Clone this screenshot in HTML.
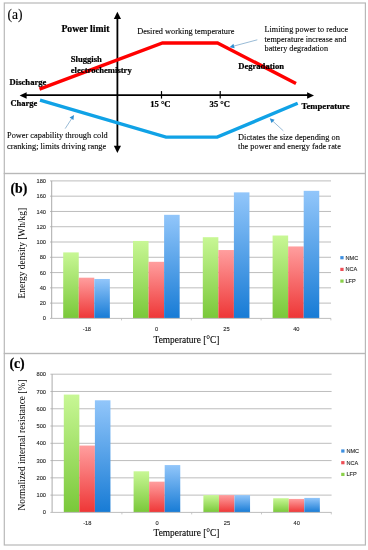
<!DOCTYPE html>
<html><head><meta charset="utf-8"><title>Figure</title>
<style>html,body{margin:0;padding:0;background:#fff;} body{width:368px;height:550px;overflow:hidden;} svg{display:block;}</style>
</head><body>
<svg width="368" height="550" viewBox="0 0 368 550">
<defs>
<linearGradient id="gG" x1="0" y1="0" x2="0" y2="1"><stop offset="0" stop-color="#c8f795"/><stop offset="1" stop-color="#79c839"/></linearGradient>
<linearGradient id="gR" x1="0" y1="0" x2="0" y2="1"><stop offset="0" stop-color="#ff9e9e"/><stop offset="1" stop-color="#ee3636"/></linearGradient>
<linearGradient id="gB" x1="0" y1="0" x2="0" y2="1"><stop offset="0" stop-color="#92c6fa"/><stop offset="1" stop-color="#177bd5"/></linearGradient>
</defs>
<rect x="0" y="0" width="368" height="550" fill="#fff"/>
<rect x="4.3" y="3" width="361.1" height="170.5" fill="none" stroke="#b8b8b8" stroke-width="1.2"/>
<rect x="4.3" y="173.5" width="361.1" height="180.0" fill="none" stroke="#b8b8b8" stroke-width="1.2"/>
<rect x="4.3" y="353.5" width="361.1" height="191.5" fill="none" stroke="#b8b8b8" stroke-width="1.2"/>
<text x="7.4" y="19.4" font-family="'Liberation Serif', 'Times New Roman', serif" font-size="13.6" font-weight="normal" fill="#000" stroke="#000" stroke-width="0.1" text-anchor="start" >(a)</text>
<g stroke="#000" stroke-width="1.8" fill="none">
<line x1="117.4" y1="18" x2="117.4" y2="147"/>
<line x1="25" y1="95.2" x2="309" y2="95.2"/>
<line x1="161.5" y1="91.1" x2="161.5" y2="98.6" stroke-width="1.2"/>
<line x1="220.2" y1="91.1" x2="220.2" y2="98.6" stroke-width="1.2"/>
</g>
<path d="M117.4,11.8 L113.8,18.9 L121.0,18.9 Z" fill="#000"/>
<path d="M117.4,153.0 L113.8,145.8 L121.0,145.8 Z" fill="#000"/>
<path d="M19.6,95.5 L26.6,92.2 L26.6,98.8 Z" fill="#000"/>
<path d="M314.0,95.5 L307.1,92.2 L307.1,98.8 Z" fill="#000"/>
<polyline points="39.5,89.2 162.5,43 217.5,43 296,83.4" fill="none" stroke="#ff0000" stroke-width="3.4" stroke-linejoin="miter"/>
<polyline points="40,100.2 166,137.1 217.2,137.1 297.7,103.3" fill="none" stroke="#10a2e6" stroke-width="3.4" stroke-linejoin="miter"/>
<line x1="257.3" y1="39.8" x2="234.04" y2="46.01" stroke="#7fa9cc" stroke-width="0.8"/>
<path d="M229.6,47.2 L233.45,43.79 L234.64,48.23 Z" fill="#2e8fd2"/>
<line x1="65.2" y1="128.6" x2="71.50" y2="118.86" stroke="#7fa9cc" stroke-width="0.8"/>
<path d="M74.0,115.0 L73.43,120.11 L69.57,117.61 Z" fill="#2e8fd2"/>
<line x1="283.3" y1="130.8" x2="273.09" y2="121.41" stroke="#7fa9cc" stroke-width="0.8"/>
<path d="M269.7,118.3 L274.64,119.72 L271.53,123.11 Z" fill="#2e8fd2"/>
<text x="61.4" y="31.9" font-family="'Liberation Serif', 'Times New Roman', serif" font-size="9.7" font-weight="bold" fill="#000" stroke="#000" stroke-width="0.22" text-anchor="start" >Power limit</text>
<text x="137.2" y="34.4" font-family="'Liberation Serif', 'Times New Roman', serif" font-size="8.3" font-weight="normal" fill="#000" stroke="#000" stroke-width="0.1" text-anchor="start" >Desired working temperature</text>
<text x="264.6" y="32.4" font-family="'Liberation Serif', 'Times New Roman', serif" font-size="8.2" font-weight="normal" fill="#000" stroke="#000" stroke-width="0.1" text-anchor="start" >Limiting power to reduce</text>
<text x="264.6" y="41.75" font-family="'Liberation Serif', 'Times New Roman', serif" font-size="8.2" font-weight="normal" fill="#000" stroke="#000" stroke-width="0.1" text-anchor="start" >temperature increase and</text>
<text x="264.6" y="51.099999999999994" font-family="'Liberation Serif', 'Times New Roman', serif" font-size="8.2" font-weight="normal" fill="#000" stroke="#000" stroke-width="0.1" text-anchor="start" >battery degradation</text>
<text x="70.8" y="62.2" font-family="'Liberation Serif', 'Times New Roman', serif" font-size="8.6" font-weight="bold" fill="#000" stroke="#000" stroke-width="0.22" text-anchor="start" >Sluggish</text>
<text x="70.8" y="72.5" font-family="'Liberation Serif', 'Times New Roman', serif" font-size="8.6" font-weight="bold" fill="#000" stroke="#000" stroke-width="0.22" text-anchor="start" >electrochemistry</text>
<text x="238.2" y="69.3" font-family="'Liberation Serif', 'Times New Roman', serif" font-size="8.6" font-weight="bold" fill="#000" stroke="#000" stroke-width="0.22" text-anchor="start" >Degradation</text>
<text x="9.6" y="85" font-family="'Liberation Serif', 'Times New Roman', serif" font-size="8.6" font-weight="bold" fill="#000" stroke="#000" stroke-width="0.22" text-anchor="start" >Discharge</text>
<text x="10.4" y="105.9" font-family="'Liberation Serif', 'Times New Roman', serif" font-size="8.5" font-weight="bold" fill="#000" stroke="#000" stroke-width="0.22" text-anchor="start" >Charge</text>
<text x="150.2" y="107" font-family="'Liberation Serif', 'Times New Roman', serif" font-size="8.6" font-weight="bold" fill="#000" stroke="#000" stroke-width="0.22" text-anchor="start" >15 °C</text>
<text x="209.6" y="107" font-family="'Liberation Serif', 'Times New Roman', serif" font-size="8.6" font-weight="bold" fill="#000" stroke="#000" stroke-width="0.22" text-anchor="start" >35 °C</text>
<text x="301.4" y="108.8" font-family="'Liberation Serif', 'Times New Roman', serif" font-size="8.7" font-weight="bold" fill="#000" stroke="#000" stroke-width="0.22" text-anchor="start" >Temperature</text>
<text x="7.0" y="138.3" font-family="'Liberation Serif', 'Times New Roman', serif" font-size="8.34" font-weight="normal" fill="#000" stroke="#000" stroke-width="0.1" text-anchor="start" >Power capability through cold</text>
<text x="7.0" y="148.6" font-family="'Liberation Serif', 'Times New Roman', serif" font-size="8.34" font-weight="normal" fill="#000" stroke="#000" stroke-width="0.1" text-anchor="start" >cranking; limits driving range</text>
<text x="238.1" y="139.8" font-family="'Liberation Serif', 'Times New Roman', serif" font-size="8.33" font-weight="normal" fill="#000" stroke="#000" stroke-width="0.1" text-anchor="start" >Dictates the size depending on</text>
<text x="238.1" y="149.3" font-family="'Liberation Serif', 'Times New Roman', serif" font-size="8.33" font-weight="normal" fill="#000" stroke="#000" stroke-width="0.1" text-anchor="start" >the power and energy fade rate</text>
<text x="10.4" y="192.9" font-family="'Liberation Serif', 'Times New Roman', serif" font-size="13.8" font-weight="bold" fill="#000" stroke="#000" stroke-width="0.22" text-anchor="start" >(b)</text>
<line x1="50.0" y1="303.12" x2="331" y2="303.12" stroke="#b6b6b6" stroke-width="0.9"/>
<line x1="50.0" y1="287.84" x2="331" y2="287.84" stroke="#b6b6b6" stroke-width="0.9"/>
<line x1="50.0" y1="272.57" x2="331" y2="272.57" stroke="#b6b6b6" stroke-width="0.9"/>
<line x1="50.0" y1="257.29" x2="331" y2="257.29" stroke="#b6b6b6" stroke-width="0.9"/>
<line x1="50.0" y1="242.01" x2="331" y2="242.01" stroke="#b6b6b6" stroke-width="0.9"/>
<line x1="50.0" y1="226.73" x2="331" y2="226.73" stroke="#b6b6b6" stroke-width="0.9"/>
<line x1="50.0" y1="211.46" x2="331" y2="211.46" stroke="#b6b6b6" stroke-width="0.9"/>
<line x1="50.0" y1="196.18" x2="331" y2="196.18" stroke="#b6b6b6" stroke-width="0.9"/>
<line x1="50.0" y1="180.90" x2="331" y2="180.90" stroke="#b6b6b6" stroke-width="0.9"/>
<text x="46.0" y="320.45" font-family="'Liberation Sans', Arial, sans-serif" font-size="5.7" font-weight="normal" fill="#262626" stroke="#262626" stroke-width="0.1" text-anchor="end" >0</text>
<text x="46.0" y="305.17" font-family="'Liberation Sans', Arial, sans-serif" font-size="5.7" font-weight="normal" fill="#262626" stroke="#262626" stroke-width="0.1" text-anchor="end" >20</text>
<text x="46.0" y="289.89" font-family="'Liberation Sans', Arial, sans-serif" font-size="5.7" font-weight="normal" fill="#262626" stroke="#262626" stroke-width="0.1" text-anchor="end" >40</text>
<text x="46.0" y="274.62" font-family="'Liberation Sans', Arial, sans-serif" font-size="5.7" font-weight="normal" fill="#262626" stroke="#262626" stroke-width="0.1" text-anchor="end" >60</text>
<text x="46.0" y="259.34" font-family="'Liberation Sans', Arial, sans-serif" font-size="5.7" font-weight="normal" fill="#262626" stroke="#262626" stroke-width="0.1" text-anchor="end" >80</text>
<text x="46.0" y="244.06" font-family="'Liberation Sans', Arial, sans-serif" font-size="5.7" font-weight="normal" fill="#262626" stroke="#262626" stroke-width="0.1" text-anchor="end" >100</text>
<text x="46.0" y="228.78" font-family="'Liberation Sans', Arial, sans-serif" font-size="5.7" font-weight="normal" fill="#262626" stroke="#262626" stroke-width="0.1" text-anchor="end" >120</text>
<text x="46.0" y="213.51" font-family="'Liberation Sans', Arial, sans-serif" font-size="5.7" font-weight="normal" fill="#262626" stroke="#262626" stroke-width="0.1" text-anchor="end" >140</text>
<text x="46.0" y="198.23" font-family="'Liberation Sans', Arial, sans-serif" font-size="5.7" font-weight="normal" fill="#262626" stroke="#262626" stroke-width="0.1" text-anchor="end" >160</text>
<text x="46.0" y="182.95" font-family="'Liberation Sans', Arial, sans-serif" font-size="5.7" font-weight="normal" fill="#262626" stroke="#262626" stroke-width="0.1" text-anchor="end" >180</text>
<rect x="63.20" y="252.40" width="15.55" height="66.00" fill="url(#gG)"/>
<rect x="78.75" y="277.68" width="15.55" height="40.72" fill="url(#gR)"/>
<rect x="94.30" y="278.98" width="15.55" height="39.42" fill="url(#gB)"/>
<rect x="133.00" y="240.94" width="15.55" height="77.46" fill="url(#gG)"/>
<rect x="148.55" y="261.80" width="15.55" height="56.60" fill="url(#gR)"/>
<rect x="164.10" y="214.82" width="15.55" height="103.58" fill="url(#gB)"/>
<rect x="202.80" y="237.20" width="15.55" height="81.20" fill="url(#gG)"/>
<rect x="218.35" y="250.03" width="15.55" height="68.37" fill="url(#gR)"/>
<rect x="233.90" y="192.36" width="15.55" height="126.04" fill="url(#gB)"/>
<rect x="272.60" y="235.52" width="15.55" height="82.88" fill="url(#gG)"/>
<rect x="288.15" y="246.44" width="15.55" height="71.96" fill="url(#gR)"/>
<rect x="303.70" y="190.83" width="15.55" height="127.57" fill="url(#gB)"/>
<line x1="51.7" y1="180.9" x2="51.7" y2="318.4" stroke="#ababab" stroke-width="1"/>
<line x1="50.0" y1="318.4" x2="331" y2="318.4" stroke="#bdbdbd" stroke-width="1"/>
<line x1="121.50" y1="318.4" x2="121.50" y2="320.4" stroke="#bdbdbd" stroke-width="0.8"/>
<line x1="191.30" y1="318.4" x2="191.30" y2="320.4" stroke="#bdbdbd" stroke-width="0.8"/>
<line x1="261.10" y1="318.4" x2="261.10" y2="320.4" stroke="#bdbdbd" stroke-width="0.8"/>
<line x1="330.90" y1="318.4" x2="330.90" y2="320.4" stroke="#bdbdbd" stroke-width="0.8"/>
<text x="86.90" y="330.8" font-family="'Liberation Sans', Arial, sans-serif" font-size="5.7" font-weight="normal" fill="#262626" stroke="#262626" stroke-width="0.1" text-anchor="middle" >-18</text>
<text x="156.70" y="330.8" font-family="'Liberation Sans', Arial, sans-serif" font-size="5.7" font-weight="normal" fill="#262626" stroke="#262626" stroke-width="0.1" text-anchor="middle" >0</text>
<text x="226.50" y="330.8" font-family="'Liberation Sans', Arial, sans-serif" font-size="5.7" font-weight="normal" fill="#262626" stroke="#262626" stroke-width="0.1" text-anchor="middle" >25</text>
<text x="296.30" y="330.8" font-family="'Liberation Sans', Arial, sans-serif" font-size="5.7" font-weight="normal" fill="#262626" stroke="#262626" stroke-width="0.1" text-anchor="middle" >40</text>
<text x="186.5" y="343.1" font-family="'Liberation Serif', 'Times New Roman', serif" font-size="9.4" font-weight="normal" fill="#000" stroke="#000" stroke-width="0.1" text-anchor="middle" >Temperature [°C]</text>
<text x="0" y="0" transform="translate(24.6,253.2) rotate(-90)" font-family="'Liberation Serif', 'Times New Roman', serif" font-size="9.4" fill="#000" text-anchor="middle">Energy density [Wh/kg]</text>
<rect x="340.3" y="256.10" width="3.3" height="3.2" fill="#3d8fe0"/>
<text x="345.50" y="259.75" font-family="'Liberation Sans', Arial, sans-serif" font-size="5.6" font-weight="normal" fill="#262626" stroke="#262626" stroke-width="0.1" text-anchor="start" >NMC</text>
<rect x="340.3" y="267.80" width="3.3" height="3.2" fill="#ee4d55"/>
<text x="345.50" y="271.45" font-family="'Liberation Sans', Arial, sans-serif" font-size="5.6" font-weight="normal" fill="#262626" stroke="#262626" stroke-width="0.1" text-anchor="start" >NCA</text>
<rect x="340.3" y="279.50" width="3.3" height="3.2" fill="#8ad04a"/>
<text x="345.50" y="283.15" font-family="'Liberation Sans', Arial, sans-serif" font-size="5.6" font-weight="normal" fill="#262626" stroke="#262626" stroke-width="0.1" text-anchor="start" >LFP</text>
<text x="9.4" y="367.8" font-family="'Liberation Serif', 'Times New Roman', serif" font-size="13.8" font-weight="bold" fill="#000" stroke="#000" stroke-width="0.22" text-anchor="start" >(c)</text>
<line x1="50.4" y1="495.12" x2="331.6" y2="495.12" stroke="#b6b6b6" stroke-width="0.9"/>
<line x1="50.4" y1="477.85" x2="331.6" y2="477.85" stroke="#b6b6b6" stroke-width="0.9"/>
<line x1="50.4" y1="460.57" x2="331.6" y2="460.57" stroke="#b6b6b6" stroke-width="0.9"/>
<line x1="50.4" y1="443.30" x2="331.6" y2="443.30" stroke="#b6b6b6" stroke-width="0.9"/>
<line x1="50.4" y1="426.02" x2="331.6" y2="426.02" stroke="#b6b6b6" stroke-width="0.9"/>
<line x1="50.4" y1="408.75" x2="331.6" y2="408.75" stroke="#b6b6b6" stroke-width="0.9"/>
<line x1="50.4" y1="391.47" x2="331.6" y2="391.47" stroke="#b6b6b6" stroke-width="0.9"/>
<line x1="50.4" y1="374.20" x2="331.6" y2="374.20" stroke="#b6b6b6" stroke-width="0.9"/>
<text x="46.0" y="514.45" font-family="'Liberation Sans', Arial, sans-serif" font-size="5.7" font-weight="normal" fill="#262626" stroke="#262626" stroke-width="0.1" text-anchor="end" >0</text>
<text x="46.0" y="497.18" font-family="'Liberation Sans', Arial, sans-serif" font-size="5.7" font-weight="normal" fill="#262626" stroke="#262626" stroke-width="0.1" text-anchor="end" >100</text>
<text x="46.0" y="479.90" font-family="'Liberation Sans', Arial, sans-serif" font-size="5.7" font-weight="normal" fill="#262626" stroke="#262626" stroke-width="0.1" text-anchor="end" >200</text>
<text x="46.0" y="462.62" font-family="'Liberation Sans', Arial, sans-serif" font-size="5.7" font-weight="normal" fill="#262626" stroke="#262626" stroke-width="0.1" text-anchor="end" >300</text>
<text x="46.0" y="445.35" font-family="'Liberation Sans', Arial, sans-serif" font-size="5.7" font-weight="normal" fill="#262626" stroke="#262626" stroke-width="0.1" text-anchor="end" >400</text>
<text x="46.0" y="428.07" font-family="'Liberation Sans', Arial, sans-serif" font-size="5.7" font-weight="normal" fill="#262626" stroke="#262626" stroke-width="0.1" text-anchor="end" >500</text>
<text x="46.0" y="410.80" font-family="'Liberation Sans', Arial, sans-serif" font-size="5.7" font-weight="normal" fill="#262626" stroke="#262626" stroke-width="0.1" text-anchor="end" >600</text>
<text x="46.0" y="393.52" font-family="'Liberation Sans', Arial, sans-serif" font-size="5.7" font-weight="normal" fill="#262626" stroke="#262626" stroke-width="0.1" text-anchor="end" >700</text>
<text x="46.0" y="376.25" font-family="'Liberation Sans', Arial, sans-serif" font-size="5.7" font-weight="normal" fill="#262626" stroke="#262626" stroke-width="0.1" text-anchor="end" >800</text>
<rect x="63.80" y="394.58" width="15.55" height="117.82" fill="url(#gG)"/>
<rect x="79.35" y="445.55" width="15.55" height="66.85" fill="url(#gR)"/>
<rect x="94.90" y="400.29" width="15.55" height="112.11" fill="url(#gB)"/>
<rect x="133.60" y="471.29" width="15.55" height="41.11" fill="url(#gG)"/>
<rect x="149.15" y="481.65" width="15.55" height="30.75" fill="url(#gR)"/>
<rect x="164.70" y="465.07" width="15.55" height="47.33" fill="url(#gB)"/>
<rect x="203.40" y="495.12" width="15.55" height="17.27" fill="url(#gG)"/>
<rect x="218.95" y="495.12" width="15.55" height="17.27" fill="url(#gR)"/>
<rect x="234.50" y="495.12" width="15.55" height="17.27" fill="url(#gB)"/>
<rect x="273.20" y="498.23" width="15.55" height="14.17" fill="url(#gG)"/>
<rect x="288.75" y="498.93" width="15.55" height="13.47" fill="url(#gR)"/>
<rect x="304.30" y="497.89" width="15.55" height="14.51" fill="url(#gB)"/>
<line x1="52.1" y1="374.2" x2="52.1" y2="512.4" stroke="#ababab" stroke-width="1"/>
<line x1="50.4" y1="512.4" x2="331.6" y2="512.4" stroke="#bdbdbd" stroke-width="1"/>
<line x1="121.90" y1="512.4" x2="121.90" y2="514.4" stroke="#bdbdbd" stroke-width="0.8"/>
<line x1="191.70" y1="512.4" x2="191.70" y2="514.4" stroke="#bdbdbd" stroke-width="0.8"/>
<line x1="261.50" y1="512.4" x2="261.50" y2="514.4" stroke="#bdbdbd" stroke-width="0.8"/>
<line x1="331.30" y1="512.4" x2="331.30" y2="514.4" stroke="#bdbdbd" stroke-width="0.8"/>
<text x="87.30" y="524.8" font-family="'Liberation Sans', Arial, sans-serif" font-size="5.7" font-weight="normal" fill="#262626" stroke="#262626" stroke-width="0.1" text-anchor="middle" >-18</text>
<text x="157.10" y="524.8" font-family="'Liberation Sans', Arial, sans-serif" font-size="5.7" font-weight="normal" fill="#262626" stroke="#262626" stroke-width="0.1" text-anchor="middle" >0</text>
<text x="226.90" y="524.8" font-family="'Liberation Sans', Arial, sans-serif" font-size="5.7" font-weight="normal" fill="#262626" stroke="#262626" stroke-width="0.1" text-anchor="middle" >25</text>
<text x="296.70" y="524.8" font-family="'Liberation Sans', Arial, sans-serif" font-size="5.7" font-weight="normal" fill="#262626" stroke="#262626" stroke-width="0.1" text-anchor="middle" >40</text>
<text x="186.5" y="535.8" font-family="'Liberation Serif', 'Times New Roman', serif" font-size="9.4" font-weight="normal" fill="#000" stroke="#000" stroke-width="0.1" text-anchor="middle" >Temperature [°C]</text>
<text x="0" y="0" transform="translate(25.3,445.1) rotate(-90)" font-family="'Liberation Serif', 'Times New Roman', serif" font-size="9.4" fill="#000" text-anchor="middle">Normalized internal resistance [%]</text>
<rect x="341.2" y="449.40" width="3.3" height="3.2" fill="#3d8fe0"/>
<text x="346.40" y="453.05" font-family="'Liberation Sans', Arial, sans-serif" font-size="5.6" font-weight="normal" fill="#262626" stroke="#262626" stroke-width="0.1" text-anchor="start" >NMC</text>
<rect x="341.2" y="461.10" width="3.3" height="3.2" fill="#ee4d55"/>
<text x="346.40" y="464.75" font-family="'Liberation Sans', Arial, sans-serif" font-size="5.6" font-weight="normal" fill="#262626" stroke="#262626" stroke-width="0.1" text-anchor="start" >NCA</text>
<rect x="341.2" y="472.80" width="3.3" height="3.2" fill="#8ad04a"/>
<text x="346.40" y="476.45" font-family="'Liberation Sans', Arial, sans-serif" font-size="5.6" font-weight="normal" fill="#262626" stroke="#262626" stroke-width="0.1" text-anchor="start" >LFP</text>
</svg>
</body></html>
